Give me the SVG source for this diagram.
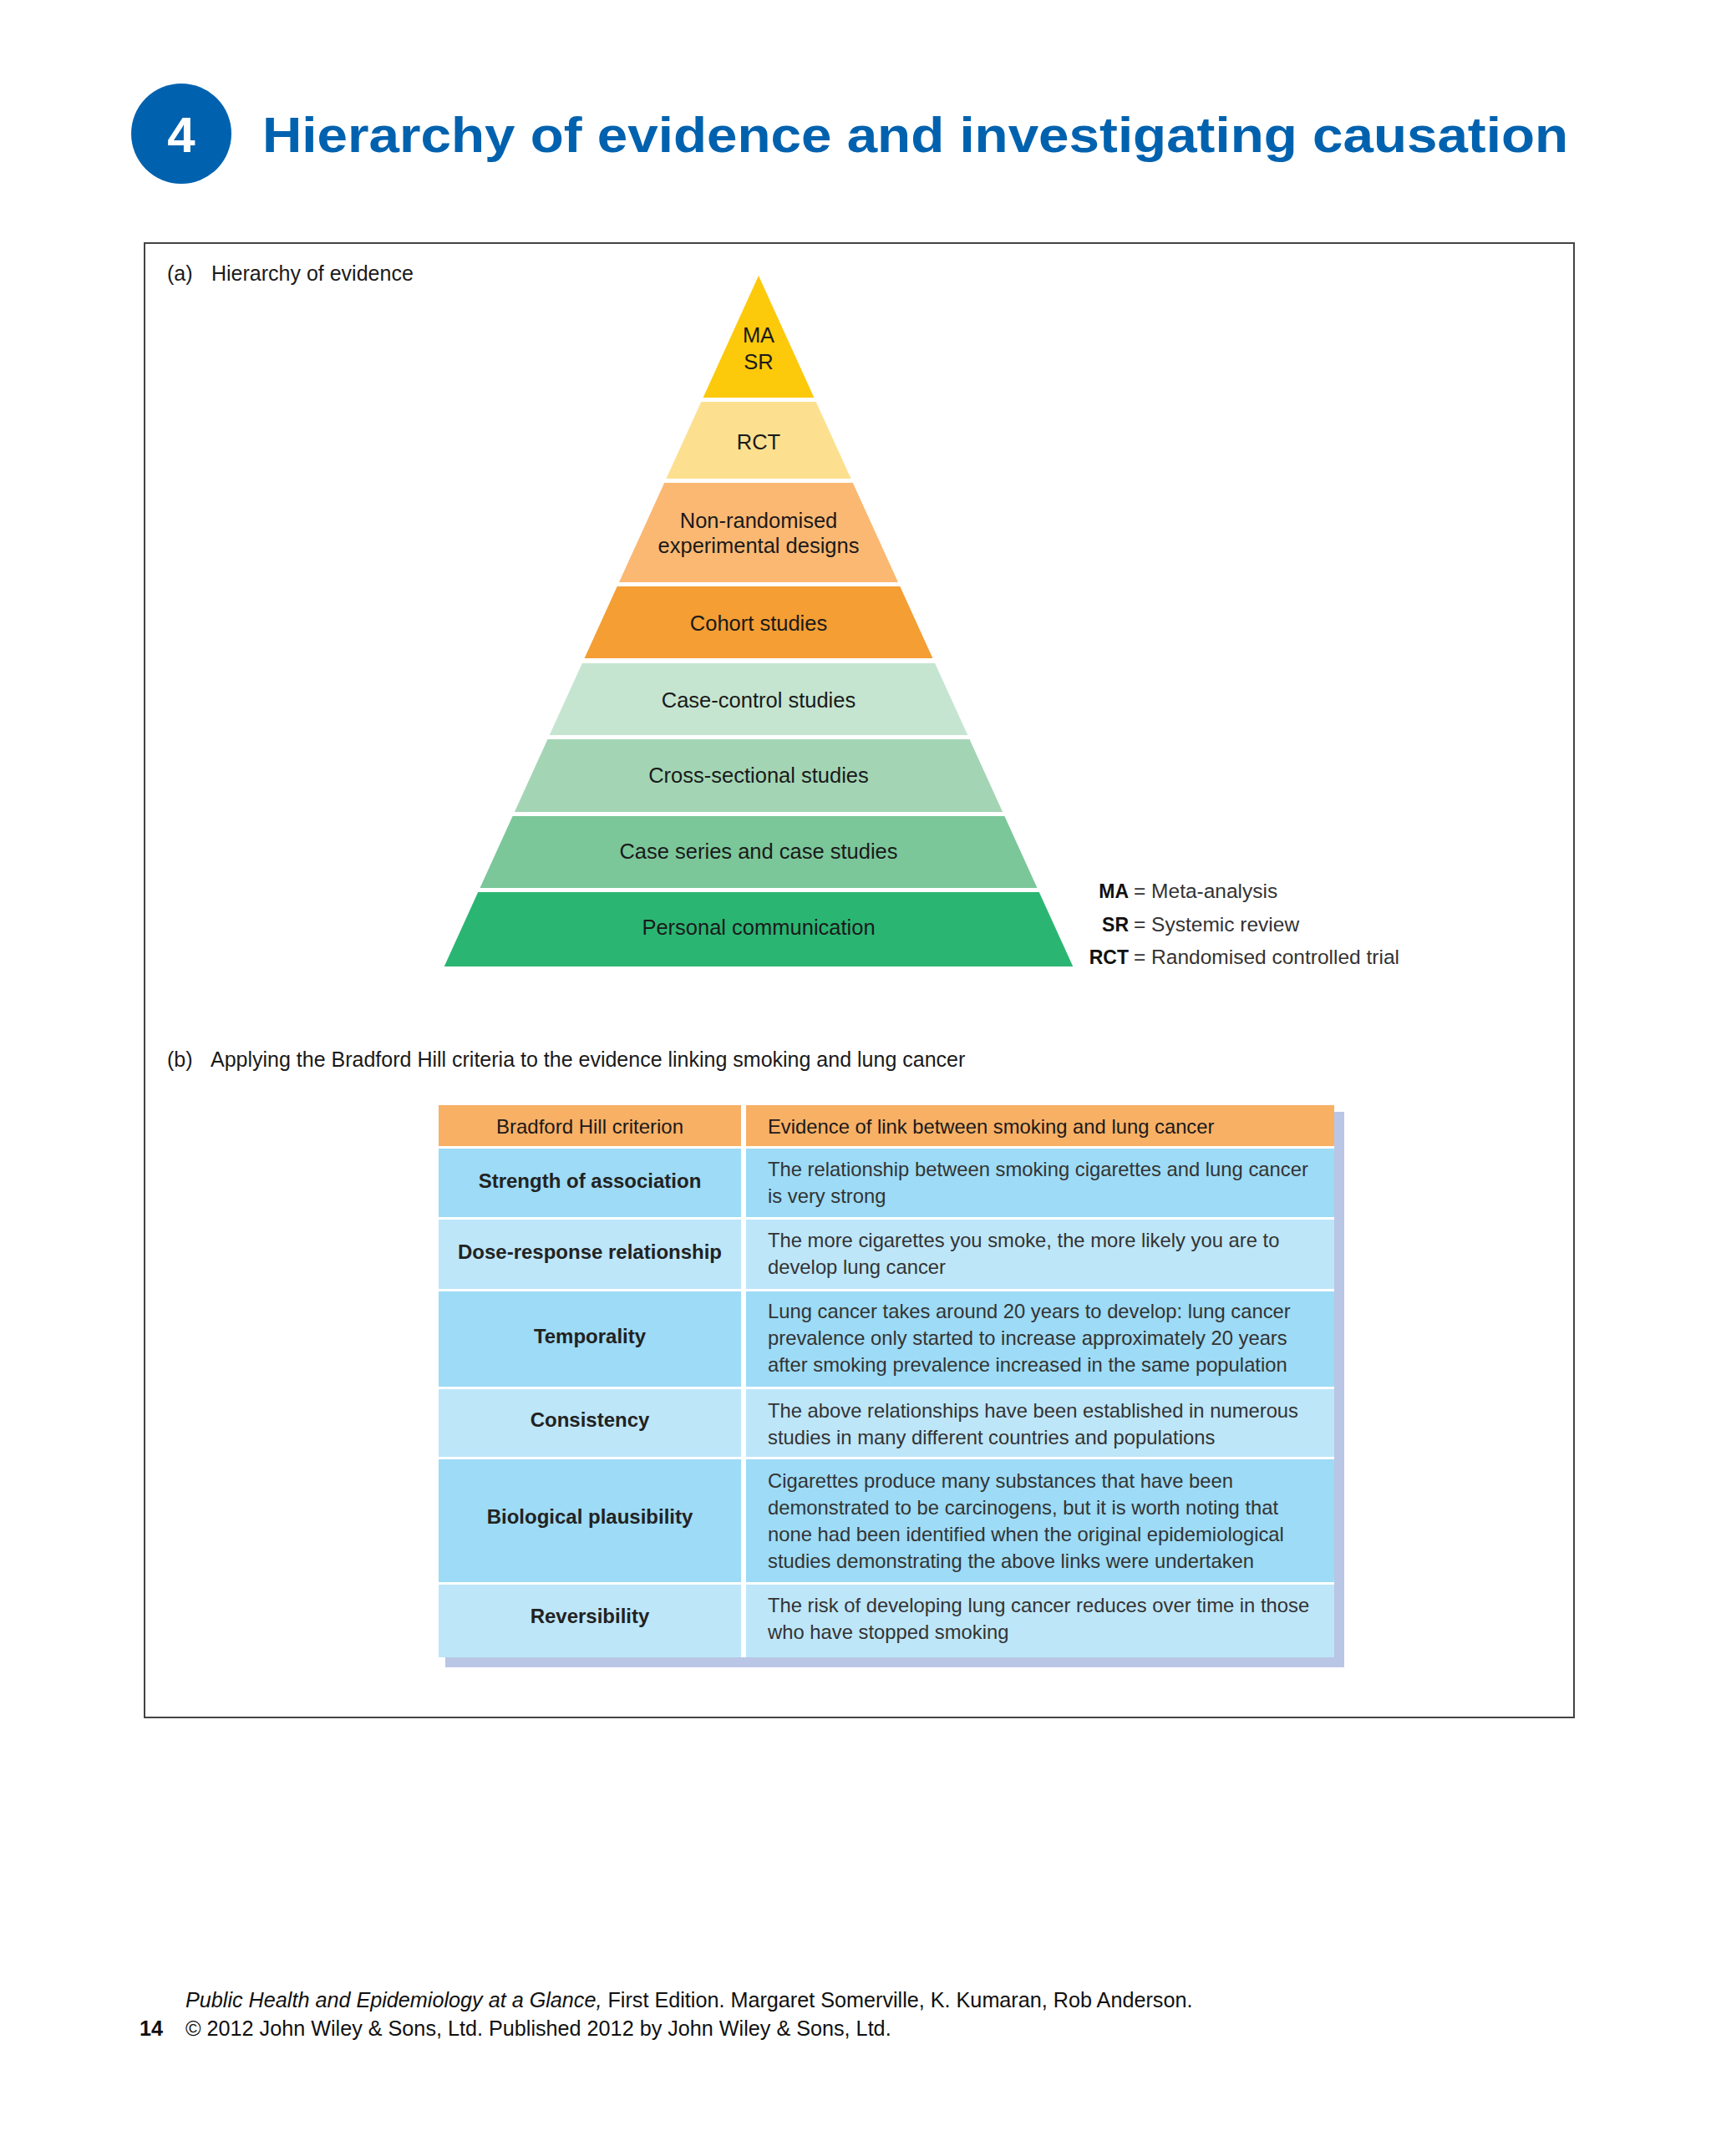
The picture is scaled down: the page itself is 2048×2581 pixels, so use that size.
<svg xmlns="http://www.w3.org/2000/svg" width="2048" height="2581" viewBox="0 0 2048 2581">
<style>
text{font-family:"Liberation Sans",Arial,sans-serif;fill:#1a1a1a}
.lbl{font-size:25.5px;text-anchor:middle}
.head{font-size:25px}
.crit{font-size:24px;text-anchor:middle;font-weight:bold;fill:#222}
.ev{font-size:23.8px;fill:#333}
.leg{font-size:24.5px;fill:#333}
.legb{font-size:23px;font-weight:bold;fill:#111;text-anchor:end}
.foot{font-size:25.2px;fill:#111}
.dark{fill:#9DDBF6}
.light{fill:#BDE6F9}
</style>
<rect width="2048" height="2581" fill="#ffffff"/>
<g id="title">
<circle cx="217" cy="160" r="60" fill="#0062AF"/>
<text x="217" y="182" font-size="60" font-weight="bold" text-anchor="middle" style="fill:#ffffff">4</text>
<text x="314" y="182" font-size="60" font-weight="bold" textLength="1563" lengthAdjust="spacingAndGlyphs" style="fill:#0062AF">Hierarchy of evidence and investigating causation</text>
</g>
<rect id="frame" x="173" y="291" width="1711" height="1765" fill="none" stroke="#444" stroke-width="2"/>
<text x="200" y="336" class="head">(a)</text><text x="253" y="336" class="head">Hierarchy of evidence</text>
<g id="pyramid">
<g id="band1"><polygon points="908,330 974.4,476 841.6,476" fill="#FCC90B"/><text class="lbl" x="908" y="410">MA</text><text class="lbl" x="908" y="442">SR</text></g>
<g id="band2"><polygon points="839.3,481 976.7,481 1018.6,573 797.4,573" fill="#FDE08F"/><text class="lbl" x="908" y="538">RCT</text></g>
<g id="band3"><polygon points="795.2,578 1020.8,578 1075,697 741,697" fill="#FBB872"/><text class="lbl" x="908" y="632">Non-randomised</text><text class="lbl" x="908" y="662">experimental designs</text></g>
<g id="band4"><polygon points="738.7,702 1077.3,702 1116.4,788 699.6,788" fill="#F49E33"/><text class="lbl" x="908" y="755">Cohort studies</text></g>
<g id="band5"><polygon points="696.9,794 1119.1,794 1158.3,880 657.7,880" fill="#C5E5D1"/><text class="lbl" x="908" y="847">Case-control studies</text></g>
<g id="band6"><polygon points="655.5,885 1160.5,885 1200.1,972 615.9,972" fill="#A3D5B5"/><text class="lbl" x="908" y="937">Cross-sectional studies</text></g>
<g id="band7"><polygon points="613.6,977 1202.4,977 1241.5,1063 574.5,1063" fill="#7BC79A"/><text class="lbl" x="908" y="1028">Case series and case studies</text></g>
<g id="band8"><polygon points="572.2,1068 1243.8,1068 1284.3,1157 531.7,1157" fill="#2BB573"/><text class="lbl" x="908" y="1119">Personal communication</text></g>
</g>
<g id="legend">
<text class="legb" x="1351" y="1075">MA</text><text class="leg" x="1357" y="1075">= Meta-analysis</text>
<text class="legb" x="1351" y="1115">SR</text><text class="leg" x="1357" y="1115">= Systemic review</text>
<text class="legb" x="1351" y="1154">RCT</text><text class="leg" x="1357" y="1154">= Randomised controlled trial</text>
</g>
<text x="200" y="1277" class="head">(b)</text><text x="252" y="1277" class="head">Applying the Bradford Hill criteria to the evidence linking smoking and lung cancer</text>
<g id="table">
<rect x="533" y="1331" width="1076" height="665" fill="#BAC6E5"/>
<rect x="525" y="1323" width="1072" height="661" fill="#ffffff"/>
<g id="hdr"><rect x="525" y="1323" width="362" height="49" fill="#F8B065"/><rect x="893" y="1323" width="704" height="49" fill="#F8B065"/>
<text class="crit" x="706" y="1357" style="font-weight:normal;fill:#1a1a1a">Bradford Hill criterion</text><text class="ev" x="919" y="1357" style="fill:#1a1a1a">Evidence of link between smoking and lung cancer</text></g>
<g id="row1"><rect class="dark" x="525" y="1375" width="362" height="82"/><rect class="dark" x="893" y="1375" width="704" height="82"/>
<text class="crit" x="706" y="1422">Strength of association</text>
<text class="ev" x="919" y="1408">The relationship between smoking cigarettes and lung cancer</text><text class="ev" x="919" y="1440">is very strong</text></g>
<g id="row2"><rect class="light" x="525" y="1460" width="362" height="83"/><rect class="light" x="893" y="1460" width="704" height="83"/>
<text class="crit" x="706" y="1507">Dose-response relationship</text>
<text class="ev" x="919" y="1493">The more cigarettes you smoke, the more likely you are to</text><text class="ev" x="919" y="1525">develop lung cancer</text></g>
<g id="row3"><rect class="dark" x="525" y="1546" width="362" height="114"/><rect class="dark" x="893" y="1546" width="704" height="114"/>
<text class="crit" x="706" y="1608">Temporality</text>
<text class="ev" x="919" y="1578">Lung cancer takes around 20 years to develop: lung cancer</text><text class="ev" x="919" y="1610">prevalence only started to increase approximately 20 years</text><text class="ev" x="919" y="1642">after smoking prevalence increased in the same population</text></g>
<g id="row4"><rect class="light" x="525" y="1663" width="362" height="81"/><rect class="light" x="893" y="1663" width="704" height="81"/>
<text class="crit" x="706" y="1708">Consistency</text>
<text class="ev" x="919" y="1697">The above relationships have been established in numerous</text><text class="ev" x="919" y="1729">studies in many different countries and populations</text></g>
<g id="row5"><rect class="dark" x="525" y="1747" width="362" height="147"/><rect class="dark" x="893" y="1747" width="704" height="147"/>
<text class="crit" x="706" y="1824">Biological plausibility</text>
<text class="ev" x="919" y="1781">Cigarettes produce many substances that have been</text><text class="ev" x="919" y="1813">demonstrated to be carcinogens, but it is worth noting that</text><text class="ev" x="919" y="1845">none had been identified when the original epidemiological</text><text class="ev" x="919" y="1877">studies demonstrating the above links were undertaken</text></g>
<g id="row6"><rect class="light" x="525" y="1897" width="362" height="87"/><rect class="light" x="893" y="1897" width="704" height="87"/>
<text class="crit" x="706" y="1943">Reversibility</text>
<text class="ev" x="919" y="1930">The risk of developing lung cancer reduces over time in those</text><text class="ev" x="919" y="1962">who have stopped smoking</text></g>
</g>
<g id="footer">
<text class="foot" x="222" y="2403"><tspan font-style="italic">Public Health and Epidemiology at a Glance,</tspan> First Edition. Margaret Somerville, K. Kumaran, Rob Anderson.</text>
<text class="foot" x="167" y="2437" font-weight="bold">14</text>
<text class="foot" x="222" y="2437">© 2012 John Wiley &amp; Sons, Ltd. Published 2012 by John Wiley &amp; Sons, Ltd.</text>
</g>
</svg>
